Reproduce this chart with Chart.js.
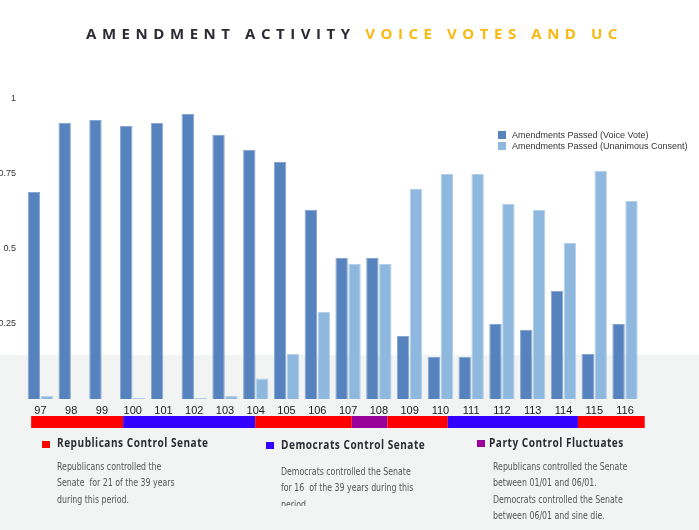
<!DOCTYPE html>
<html><head><meta charset="utf-8">
<script src="https://cdn.jsdelivr.net/npm/chart.js@4/dist/chart.umd.min.js"></script>
<style>
html,body{margin:0;padding:0;}
body{width:699px;height:530px;overflow:hidden;position:relative;
 background:linear-gradient(to bottom,#ffffff 0,#ffffff 355px,#f2f3f3 355px,#f2f3f3 100%);
 font-family:"Open Sans",sans-serif;}
#c{position:absolute;left:0;top:0;}
#title{position:absolute;left:86px;top:22px;font-size:15px;font-weight:700;letter-spacing:5.55px;white-space:nowrap;color:#2b2b33;line-height:22px;}
#title .hl{color:#f8b912;}
#legend{position:absolute;left:498px;top:130px;font-family:"Liberation Sans",Arial,sans-serif;font-size:9px;color:#333;}
.li{display:flex;align-items:center;height:10.5px;white-space:nowrap;}
.sw{width:8px;height:8px;margin-right:6px;flex:none;}
.ph{position:absolute;white-space:nowrap;font-weight:700;font-size:12px;letter-spacing:0.6px;color:#2b2b33;line-height:16px;transform:scaleX(0.84);transform-origin:0 0;}
.sq{position:absolute;width:8px;height:7px;}
.pt{position:absolute;font-family:"Liberation Sans Narrow","DejaVu Sans Condensed",sans-serif;font-size:10.5px;color:#555;line-height:16.3px;white-space:nowrap;overflow:hidden;transform:scaleX(0.83);transform-origin:0 0;}
</style></head>
<body>
<canvas id="c" width="699" height="530"></canvas>
<div id="title">AMENDMENT ACTIVITY <span class="hl">VOICE VOTES AND UC</span></div>
<div id="legend"></div>

<div class="sq" style="left:42px;top:441px;background:#ff0000"></div>
<div class="ph" style="left:57px;top:435px;">Republicans Control Senate</div>
<div class="pt" style="left:57px;top:458px;">Republicans controlled the<br>Senate&nbsp; for 21 of the 39 years<br>during this period.</div>

<div class="sq" style="left:266px;top:442px;background:#3300ff"></div>
<div class="ph" style="left:281px;top:437px;">Democrats Control Senate</div>
<div class="pt" style="left:281px;top:463px;height:43px;">Democrats controlled the Senate<br>for 16&nbsp; of the 39 years during this<br>period.</div>

<div class="sq" style="left:477px;top:440px;background:#990099"></div>
<div class="ph" style="left:489px;top:435px;">Party Control Fluctuates</div>
<div class="pt" style="left:493px;top:458px;">Republicans controlled the Senate<br>between 01/01 and 06/01.<br>Democrats controlled the Senate<br>between 06/01 and sine die.</div>

<script>
// ---- data ----
const congress = ['97','98','99','100','101','102','103','104','105','106','107','108','109','110','111','112','113','114','115','116'];
const voiceVote = [0.69,0.92,0.93,0.91,0.92,0.95,0.88,0.83,0.79,0.63,0.47,0.47,0.21,0.14,0.14,0.25,0.23,0.36,0.15,0.25];
const unanimousConsent = [0.01,0,0,0.003,0,0.003,0.01,0.068,0.15,0.29,0.45,0.45,0.70,0.75,0.75,0.65,0.63,0.52,0.76,0.66];
const yTicks = [0, 0.25, 0.5, 0.75, 1];
const seriesLabels = ['Amendments Passed (Voice Vote)', 'Amendments Passed (Unanimous Consent)'];
// party-control strip (in congress numbers, fractional)
const partyStart = [96.70, 99.69, 103.98, 107.12, 108.28, 110.24, 114.47];
const partyEnd   = [99.69, 103.98, 107.12, 108.28, 110.24, 114.47, 116.64];
const partyColor = ['#ff0000','#3300ff','#ff0000','#990099','#ff0000','#3300ff','#ff0000'];

const seriesColors = ['#5683bd', '#8fb8de'];
const seriesBorders = ['#86a6d3', '#b3cfea'];

// HTML legend
const lg = document.getElementById('legend');
seriesLabels.forEach((l, i) => {
  const d = document.createElement('div'); d.className = 'li';
  const s = document.createElement('span'); s.className = 'sw'; s.style.background = seriesColors[i];
  d.appendChild(s); d.appendChild(document.createTextNode(l)); lg.appendChild(d);
});

const stripPlugin = {
  id: 'strip',
  afterDraw(chart) {
    const x = chart.scales.x, ctx = chart.ctx;
    const y0 = chart.chartArea.bottom + 17;
    ctx.save();
    for (let i = 0; i < partyStart.length; i++) {
      const a = x.getPixelForValue(partyStart[i] - 97);
      const b = x.getPixelForValue(partyEnd[i] - 97);
      ctx.fillStyle = partyColor[i];
      ctx.fillRect(a, y0, b - a, 12);
    }
    ctx.restore();
  }
};

new Chart(document.getElementById('c'), {
  type: 'bar',
  data: {
    labels: congress,
    datasets: [
      { label: seriesLabels[0], data: voiceVote, backgroundColor: seriesColors[0], borderColor: seriesBorders[0], borderWidth: 1 },
      { label: seriesLabels[1], data: unanimousConsent, backgroundColor: seriesColors[1], borderColor: seriesBorders[1], borderWidth: 1 }
    ]
  },
  options: {
    responsive: false,
    devicePixelRatio: 1,
    animation: false,
    layout: { padding: { top: 99, right: 58.6, bottom: 109, left: 0 } },
    datasets: { bar: { categoryPercentage: 0.84, barPercentage: 0.96 } },
    plugins: { legend: { display: false }, tooltip: { enabled: false } },
    scales: {
      x: {
        grid: { display: false, drawTicks: false },
        border: { display: false },
        ticks: { color: '#222', font: { family: 'Liberation Sans', size: 11 }, padding: 5, maxRotation: 0, autoSkip: false },
        afterFit(s) { s.height = 22; }
      },
      y: {
        min: 0, max: 1,
        grid: { display: false, drawTicks: false },
        border: { display: false },
        afterBuildTicks(s) { s.ticks = yTicks.map(v => ({ value: v })); },
        ticks: { color: '#333', font: { family: 'Liberation Sans', size: 9 }, padding: 9,
          callback: v => v === 0 ? '' : String(v) },
        afterFit(s) { s.width = 25; }
      }
    }
  },
  plugins: [stripPlugin]
});
</script>
</body></html>
